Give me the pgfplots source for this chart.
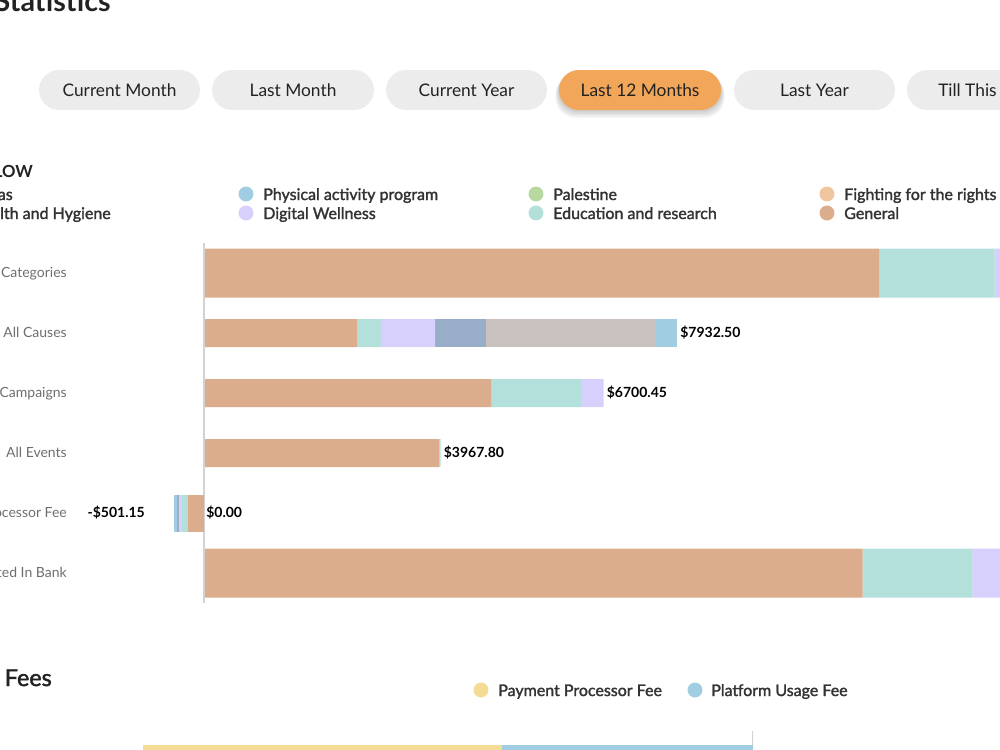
\documentclass[border=0pt]{standalone}
\usepackage{pgfplots}
\pgfplotsset{compat=1.18}
\usepackage{fontspec}
\setmainfont{Lato}
\newfontfamily\sbfont{Lato}[FakeBold=1.8]
\definecolor{cgen}{RGB}{220,173,140}
\definecolor{cteal}{RGB}{179,224,219}
\definecolor{clav}{RGB}{215,207,252}
\definecolor{cbg}{RGB}{151,173,200}
\definecolor{cbeige}{RGB}{201,193,189}
\definecolor{clblue}{RGB}{161,205,227}
\definecolor{cgreen}{RGB}{183,216,161}
\definecolor{cpeach}{RGB}{240,196,156}
\definecolor{cyellow}{RGB}{245,220,148}
\definecolor{corange}{RGB}{242,166,90}
\definecolor{cpill}{RGB}{235,236,235}
\definecolor{ctext}{RGB}{34,34,34}
\definecolor{cleg}{RGB}{51,51,51}
\definecolor{cgray}{RGB}{110,110,110}
\definecolor{cline}{RGB}{210,210,210}
\pgfplotsset{
  mainax/.style={
    at={(108.28pt,-182.25pt)}, anchor=north west,
    scale only axis, width=670.84pt, height=270pt,
    xmin=-1000, xmax=14000, ymin=-0.5, ymax=5.5, y dir=reverse,
    xbar stacked,
    every axis plot/.append style={draw=none},
  },
}
\tikzset{
  vallab/.style={inner sep=0, text height=0.72em, text depth=0pt, font=\fontsize{10.5}{12}\selectfont\bfseries},
}
\begin{document}
\begin{tikzpicture}[font=\fontsize{10.5}{12}\selectfont]
\useasboundingbox (0,0) rectangle (750pt,-562.5pt);
\clip (0,0) rectangle (750pt,-562.5pt);
\begin{scope}[x=0.75pt,y=-0.75pt]
  % title
  \node[anchor=base east, inner sep=0, font=\fontsize{21.5}{24}\selectfont\bfseries, text=ctext] at (111,11) {Statistics};
  % pills
  \foreach \a/\b/\t in {39/200/Current Month, 212/374/Last Month, 386/547/Current Year, 734/895/Last Year}{
    \fill[cpill, rounded corners=15pt] (\a,70) rectangle (\b,110);
    \node[anchor=base, inner sep=0, font=\fontsize{13}{15}\selectfont, text=ctext] at ({(\a+\b)/2},96) {\t};
  }
  \fill[cpill, rounded corners=15pt] (907,70) rectangle (1069,110);
  \node[anchor=base west, inner sep=0, font=\fontsize{13}{15}\selectfont, text=ctext] at (938,96) {Till This Year};
  \foreach \i in {1,...,6}{
    \fill[black, opacity=0.035, rounded corners=15pt] ({559-\i*0.6},{70+\i*0.9}) rectangle ({721+\i*0.6},{110+\i*1.3});
  }
  \fill[corange, rounded corners=15pt] (559,70) rectangle (721,110);
  \node[anchor=base, inner sep=0, font=\fontsize{13}{15}\selectfont, text=ctext] at (640,96) {Last 12 Months};
  % section heading
  \node[anchor=base east, inner sep=0, font=\fontsize{12.5}{15}\selectfont\bfseries, text=ctext] at (33,177) {CASH FLOW};
  % legend
  \node[anchor=base east, inner sep=0, font=\sbfont\fontsize{12}{14}\selectfont, text=cleg] at (13,200) {Ideas};
  \node[anchor=base east, inner sep=0, font=\sbfont\fontsize{12}{14}\selectfont, text=cleg] at (111,219) {Health and Hygiene};
  \foreach \cx/\cy/\c/\t in {246/194/clblue/Physical activity program, 246/213/clav/Digital Wellness, 536/194/cgreen/Palestine, 536/213/cteal/Education and research, 827/194/cpeach/Fighting for the rights, 827/213/cgen/General}{
    \fill[\c] (\cx,\cy) circle[radius=5.6pt];
    \node[anchor=base west, inner sep=0, font=\sbfont\fontsize{12}{14}\selectfont, text=cleg] at ({\cx+17},{\cy+6}) {\t};
  }
  % fees heading and legend
  \node[anchor=base east, inner sep=0, font=\sbfont\fontsize{17.5}{20}\selectfont, text=ctext] at (52,686) {Fees};
  \fill[cyellow] (481,690) circle[radius=5.6pt];
  \node[anchor=base west, inner sep=0, font=\sbfont\fontsize{12}{14}\selectfont, text=cleg] at (498,696) {Payment Processor Fee};
  \fill[clblue] (695,690) circle[radius=5.6pt];
  \node[anchor=base west, inner sep=0, font=\sbfont\fontsize{12}{14}\selectfont, text=cleg] at (711,696) {Platform Usage Fee};
\end{scope}

% main chart: rows 0 and 5 (thick bars)
\begin{axis}[mainax, bar width=36.75pt,
  axis lines=left, axis line style={draw=none},
  ytick={0,1,2,3,4,5},
  yticklabels={All Categories, All Causes, All Campaigns, All Events, Payment Processor Fee, Deposited In Bank},
  major tick length=0pt, xtick=\empty,
  yticklabel style={anchor=east, inner sep=0pt, text height=0.72em, text depth=0pt, xshift=-58.03pt, text=cgray, font=\fontsize{10.5}{12}\selectfont},
]
\addplot[fill=cgen]   coordinates {(11320,0) (11044,5)};
\addplot[fill=cteal]  coordinates {(1937.8,0) (1840.8,5)};
\addplot[fill=clav]   coordinates {(1284.45,0) (1239.45,5)};
\addplot[fill=cbg]    coordinates {(855,0) (817,5)};
\addplot[fill=cbeige] coordinates {(2834,0) (2834,5)};
\addplot[fill=clblue] coordinates {(369.5,0) (324.35,5)};
\end{axis}

% rows 1-3
\begin{axis}[mainax, bar width=21pt, hide axis]
\addplot[fill=cgen]   coordinates {(2566,1) (4813,2) (3941,3)};
\addplot[fill=cteal]  coordinates {(402,1) (1509,2) (26.8,3)};
\addplot[fill=clav]   coordinates {(906,1) (378.45,2) (0,3)};
\addplot[fill=cbg]    coordinates {(855,1) (0,2) (0,3)};
\addplot[fill=cbeige] coordinates {(2834,1) (0,2) (0,3)};
\addplot[fill=clblue] coordinates {(369.5,1) (0,2) (0,3)};
\node[vallab, anchor=west, xshift=2.25pt] at (axis cs:7932.5,1) {\$7932.50};
\node[vallab, anchor=west, xshift=2.25pt] at (axis cs:6700.45,2) {\$6700.45};
\node[vallab, anchor=west, xshift=2.25pt] at (axis cs:3967.8,3) {\$3967.80};
\end{axis}

% row 4 (fees, negative)
\begin{axis}[mainax, bar width=27.75pt, hide axis, clip=false]
\addplot[fill=cgen]   coordinates {(-276,4)};
\addplot[fill=cteal]  coordinates {(-97,4)};
\addplot[fill=clav]   coordinates {(-45,4)};
\addplot[fill=cbg]    coordinates {(-38,4)};
\addplot[fill=clblue] coordinates {(-45.15,4)};
\node[vallab, anchor=east, xshift=-21.75pt] at (axis cs:-501.15,4) {-\$501.15};
\node[vallab, anchor=west, xshift=1.5pt] at (axis cs:0,4) {\$0.00};
\draw[cline, line width=0.9pt] (axis cs:0,-0.5) -- (axis cs:0,5.5);
\end{axis}

% fees chart
\begin{axis}[at={(107.25pt,-548.25pt)}, anchor=north west,
  scale only axis, width=457.5pt, height=43.5pt,
  xmin=-501.15, xmax=0, ymin=-0.5, ymax=0.5,
  xbar stacked, bar width=22.5pt, hide axis,
  every axis plot/.append style={draw=none}]
\addplot[fill=clblue]  coordinates {(-206.40,0)};
\addplot[fill=cyellow] coordinates {(-294.75,0)};
\draw[cline, line width=0.9pt] (axis cs:0,-0.5) -- (axis cs:0,0.5);
\end{axis}
\end{tikzpicture}
\end{document}
